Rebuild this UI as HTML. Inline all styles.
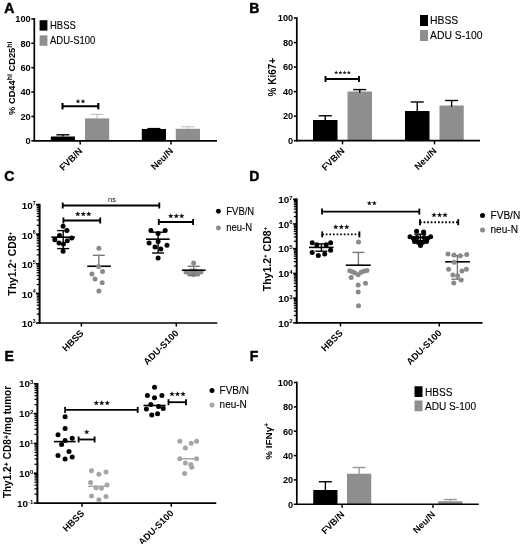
<!DOCTYPE html>
<html><head><meta charset="utf-8"><title>Figure</title>
<style>
html,body{margin:0;padding:0;background:#fff;}
svg{display:block;font-family:"Liberation Sans",sans-serif;filter:blur(0.35px);}
</style></head><body>
<svg width="520" height="544" viewBox="0 0 520 544">
<rect x="0" y="0" width="520" height="544" fill="#fff"/>
<text x="4.20" y="13.00" font-size="14" font-weight="bold" text-anchor="start" fill="#000" stroke="#000" stroke-width="0.45">A</text>
<text x="249.20" y="13.00" font-size="14" font-weight="bold" text-anchor="start" fill="#000" stroke="#000" stroke-width="0.45">B</text>
<text x="4.20" y="180.60" font-size="14" font-weight="bold" text-anchor="start" fill="#000" stroke="#000" stroke-width="0.45">C</text>
<text x="249.20" y="180.60" font-size="14" font-weight="bold" text-anchor="start" fill="#000" stroke="#000" stroke-width="0.45">D</text>
<text x="4.60" y="361.00" font-size="14" font-weight="bold" text-anchor="start" fill="#000" stroke="#000" stroke-width="0.45">E</text>
<text x="249.80" y="361.00" font-size="14" font-weight="bold" text-anchor="start" fill="#000" stroke="#000" stroke-width="0.45">F</text>
<rect x="50.80" y="136.50" width="24.20" height="4.30" fill="#000"/>
<line x1="62.90" y1="134.80" x2="62.90" y2="136.50" stroke="#000" stroke-width="1.4" />
<line x1="56.40" y1="134.80" x2="69.40" y2="134.80" stroke="#000" stroke-width="1.4" />
<rect x="85.00" y="118.40" width="24.20" height="22.40" fill="#8e8e8e"/>
<line x1="97.10" y1="114.40" x2="97.10" y2="118.40" stroke="#b4b4b4" stroke-width="0.9" />
<line x1="90.60" y1="114.40" x2="103.60" y2="114.40" stroke="#b4b4b4" stroke-width="0.9" />
<rect x="141.80" y="129.00" width="24.20" height="11.80" fill="#000"/>
<line x1="153.90" y1="128.60" x2="153.90" y2="129.00" stroke="#000" stroke-width="1.4" />
<line x1="147.40" y1="128.60" x2="160.40" y2="128.60" stroke="#000" stroke-width="1.4" />
<rect x="175.80" y="128.80" width="24.20" height="12.00" fill="#8e8e8e"/>
<line x1="187.90" y1="126.80" x2="187.90" y2="128.80" stroke="#b4b4b4" stroke-width="0.9" />
<line x1="181.40" y1="126.80" x2="194.40" y2="126.80" stroke="#b4b4b4" stroke-width="0.9" />
<line x1="34.30" y1="18.05" x2="34.30" y2="141.65" stroke="#000" stroke-width="1.7" />
<line x1="34.30" y1="140.80" x2="217.00" y2="140.80" stroke="#000" stroke-width="1.7" />
<line x1="31.30" y1="18.90" x2="34.30" y2="18.90" stroke="#000" stroke-width="1.5" />
<text x="30.70" y="22.20" font-size="9.2" font-weight="bold" text-anchor="end" fill="#000" >100</text>
<line x1="31.30" y1="43.28" x2="34.30" y2="43.28" stroke="#000" stroke-width="1.5" />
<text x="30.70" y="46.58" font-size="9.2" font-weight="bold" text-anchor="end" fill="#000" >80</text>
<line x1="31.30" y1="67.66" x2="34.30" y2="67.66" stroke="#000" stroke-width="1.5" />
<text x="30.70" y="70.96" font-size="9.2" font-weight="bold" text-anchor="end" fill="#000" >60</text>
<line x1="31.30" y1="92.04" x2="34.30" y2="92.04" stroke="#000" stroke-width="1.5" />
<text x="30.70" y="95.34" font-size="9.2" font-weight="bold" text-anchor="end" fill="#000" >40</text>
<line x1="31.30" y1="116.42" x2="34.30" y2="116.42" stroke="#000" stroke-width="1.5" />
<text x="30.70" y="119.72" font-size="9.2" font-weight="bold" text-anchor="end" fill="#000" >20</text>
<line x1="31.30" y1="140.80" x2="34.30" y2="140.80" stroke="#000" stroke-width="1.5" />
<text x="30.70" y="144.10" font-size="9.2" font-weight="bold" text-anchor="end" fill="#000" >0</text>
<line x1="80.20" y1="140.80" x2="80.20" y2="144.40" stroke="#000" stroke-width="1.5" />
<text x="83.00" y="151.60" font-size="9.3" font-weight="bold" text-anchor="end" fill="#000" transform="rotate(-45 83.00 151.60)" >FVB/N</text>
<line x1="171.00" y1="140.80" x2="171.00" y2="144.40" stroke="#000" stroke-width="1.5" />
<text x="173.80" y="151.60" font-size="9.3" font-weight="bold" text-anchor="end" fill="#000" transform="rotate(-45 173.80 151.60)" >Neu/N</text>
<text x="15.40" y="78.20" font-size="9.3" font-weight="bold" text-anchor="middle" fill="#000" transform="rotate(-90 15.40 78.20)" >% CD44<tspan font-size="7" dy="-3.2">hi</tspan><tspan dy="3.2"> CD25</tspan><tspan font-size="7" dy="-3.2">hi</tspan></text>
<line x1="62.50" y1="106.20" x2="98.30" y2="106.20" stroke="#000" stroke-width="2.1" />
<line x1="62.50" y1="103.00" x2="62.50" y2="109.40" stroke="#000" stroke-width="2.1" />
<line x1="98.30" y1="103.00" x2="98.30" y2="109.40" stroke="#000" stroke-width="2.1" />
<text x="80.75" y="103.30" font-size="5" font-weight="normal" text-anchor="middle" fill="#000" font-family="DejaVu Sans" stroke="#000" stroke-width="0.25" letter-spacing="0.5">&#9733;&#9733;</text>
<rect x="39.60" y="20.20" width="7.80" height="10.40" fill="#000"/>
<rect x="39.60" y="35.40" width="7.80" height="10.40" fill="#8e8e8e"/>
<text transform="translate(50.00 29.00) scale(0.93 1)" font-size="10.21" fill="#000" stroke="#000" stroke-width="0.12">HBSS</text>
<text transform="translate(50.00 44.20) scale(0.93 1)" font-size="10.21" fill="#000" stroke="#000" stroke-width="0.12">ADU-S100</text>
<rect x="313.00" y="120.00" width="24.50" height="20.70" fill="#000"/>
<line x1="325.25" y1="115.75" x2="325.25" y2="120.00" stroke="#000" stroke-width="1.4" />
<line x1="318.75" y1="115.75" x2="331.75" y2="115.75" stroke="#000" stroke-width="1.4" />
<rect x="347.50" y="91.50" width="24.50" height="49.20" fill="#8e8e8e"/>
<line x1="359.75" y1="89.60" x2="359.75" y2="92.70" stroke="#000" stroke-width="1.4" />
<line x1="353.25" y1="89.60" x2="366.25" y2="89.60" stroke="#000" stroke-width="1.4" />
<rect x="405.00" y="111.00" width="24.50" height="29.70" fill="#000"/>
<line x1="417.25" y1="102.00" x2="417.25" y2="111.00" stroke="#000" stroke-width="1.4" />
<line x1="410.75" y1="102.00" x2="423.75" y2="102.00" stroke="#000" stroke-width="1.4" />
<rect x="439.50" y="105.50" width="24.25" height="35.20" fill="#8e8e8e"/>
<line x1="451.62" y1="100.50" x2="451.62" y2="106.70" stroke="#000" stroke-width="1.4" />
<line x1="445.12" y1="100.50" x2="458.12" y2="100.50" stroke="#000" stroke-width="1.4" />
<line x1="296.80" y1="17.15" x2="296.80" y2="141.55" stroke="#000" stroke-width="1.7" />
<line x1="296.80" y1="140.70" x2="480.00" y2="140.70" stroke="#000" stroke-width="1.7" />
<line x1="293.80" y1="18.00" x2="296.80" y2="18.00" stroke="#000" stroke-width="1.5" />
<text x="293.20" y="21.30" font-size="9.2" font-weight="bold" text-anchor="end" fill="#000" >100</text>
<line x1="293.80" y1="42.54" x2="296.80" y2="42.54" stroke="#000" stroke-width="1.5" />
<text x="293.20" y="45.84" font-size="9.2" font-weight="bold" text-anchor="end" fill="#000" >80</text>
<line x1="293.80" y1="67.08" x2="296.80" y2="67.08" stroke="#000" stroke-width="1.5" />
<text x="293.20" y="70.38" font-size="9.2" font-weight="bold" text-anchor="end" fill="#000" >60</text>
<line x1="293.80" y1="91.62" x2="296.80" y2="91.62" stroke="#000" stroke-width="1.5" />
<text x="293.20" y="94.92" font-size="9.2" font-weight="bold" text-anchor="end" fill="#000" >40</text>
<line x1="293.80" y1="116.16" x2="296.80" y2="116.16" stroke="#000" stroke-width="1.5" />
<text x="293.20" y="119.46" font-size="9.2" font-weight="bold" text-anchor="end" fill="#000" >20</text>
<line x1="293.80" y1="140.70" x2="296.80" y2="140.70" stroke="#000" stroke-width="1.5" />
<text x="293.20" y="144.00" font-size="9.2" font-weight="bold" text-anchor="end" fill="#000" >0</text>
<line x1="342.50" y1="140.70" x2="342.50" y2="144.30" stroke="#000" stroke-width="1.5" />
<text x="345.30" y="151.50" font-size="9.3" font-weight="bold" text-anchor="end" fill="#000" transform="rotate(-45 345.30 151.50)" >FVB/N</text>
<line x1="434.50" y1="140.70" x2="434.50" y2="144.30" stroke="#000" stroke-width="1.5" />
<text x="437.30" y="151.50" font-size="9.3" font-weight="bold" text-anchor="end" fill="#000" transform="rotate(-45 437.30 151.50)" >Neu/N</text>
<text x="276.40" y="77.10" font-size="10" font-weight="bold" text-anchor="middle" fill="#000" transform="rotate(-90 276.40 77.10)" >% Ki67+</text>
<line x1="325.50" y1="79.00" x2="359.00" y2="79.00" stroke="#000" stroke-width="1.85" />
<line x1="325.50" y1="76.00" x2="325.50" y2="82.00" stroke="#000" stroke-width="1.85" />
<line x1="359.00" y1="76.00" x2="359.00" y2="82.00" stroke="#000" stroke-width="1.85" />
<text x="342.73" y="74.20" font-size="4.2" font-weight="normal" text-anchor="middle" fill="#000" font-family="DejaVu Sans" stroke="#000" stroke-width="0.25" letter-spacing="0.45">&#9733;&#9733;&#9733;&#9733;</text>
<rect x="420.00" y="15.00" width="8.00" height="11.00" fill="#000"/>
<rect x="420.00" y="30.00" width="8.00" height="11.00" fill="#8e8e8e"/>
<text transform="translate(430.00 24.20) scale(0.93 1)" font-size="11.18" fill="#000" stroke="#000" stroke-width="0.12">HBSS</text>
<text transform="translate(430.00 39.00) scale(0.93 1)" font-size="11.18" fill="#000" stroke="#000" stroke-width="0.12">ADU S-100</text>
<rect x="313.25" y="490.00" width="24.25" height="14.25" fill="#000"/>
<line x1="325.38" y1="481.75" x2="325.38" y2="490.00" stroke="#000" stroke-width="1.4" />
<line x1="318.88" y1="481.75" x2="331.88" y2="481.75" stroke="#000" stroke-width="1.4" />
<rect x="347.00" y="473.75" width="24.25" height="30.50" fill="#8e8e8e"/>
<line x1="359.12" y1="467.50" x2="359.12" y2="473.75" stroke="#999" stroke-width="1.4" />
<line x1="352.62" y1="467.50" x2="365.62" y2="467.50" stroke="#999" stroke-width="1.4" />
<rect x="438.25" y="501.25" width="24.25" height="3.00" fill="#8e8e8e"/>
<line x1="450.38" y1="499.50" x2="450.38" y2="501.25" stroke="#999" stroke-width="1.4" />
<line x1="443.88" y1="499.50" x2="456.88" y2="499.50" stroke="#999" stroke-width="1.4" />
<line x1="296.80" y1="381.65" x2="296.80" y2="505.10" stroke="#000" stroke-width="1.7" />
<line x1="296.80" y1="504.25" x2="478.75" y2="504.25" stroke="#000" stroke-width="1.7" />
<line x1="293.80" y1="382.50" x2="296.80" y2="382.50" stroke="#000" stroke-width="1.5" />
<text x="293.20" y="385.80" font-size="9.2" font-weight="bold" text-anchor="end" fill="#000" >100</text>
<line x1="293.80" y1="406.85" x2="296.80" y2="406.85" stroke="#000" stroke-width="1.5" />
<text x="293.20" y="410.15" font-size="9.2" font-weight="bold" text-anchor="end" fill="#000" >80</text>
<line x1="293.80" y1="431.20" x2="296.80" y2="431.20" stroke="#000" stroke-width="1.5" />
<text x="293.20" y="434.50" font-size="9.2" font-weight="bold" text-anchor="end" fill="#000" >60</text>
<line x1="293.80" y1="455.55" x2="296.80" y2="455.55" stroke="#000" stroke-width="1.5" />
<text x="293.20" y="458.85" font-size="9.2" font-weight="bold" text-anchor="end" fill="#000" >40</text>
<line x1="293.80" y1="479.90" x2="296.80" y2="479.90" stroke="#000" stroke-width="1.5" />
<text x="293.20" y="483.20" font-size="9.2" font-weight="bold" text-anchor="end" fill="#000" >20</text>
<line x1="293.80" y1="504.25" x2="296.80" y2="504.25" stroke="#000" stroke-width="1.5" />
<text x="293.20" y="507.55" font-size="9.2" font-weight="bold" text-anchor="end" fill="#000" >0</text>
<line x1="342.10" y1="504.25" x2="342.10" y2="507.85" stroke="#000" stroke-width="1.5" />
<text x="344.90" y="515.05" font-size="9.3" font-weight="bold" text-anchor="end" fill="#000" transform="rotate(-45 344.90 515.05)" >FVB/N</text>
<line x1="433.00" y1="504.25" x2="433.00" y2="507.85" stroke="#000" stroke-width="1.5" />
<text x="435.80" y="515.05" font-size="9.3" font-weight="bold" text-anchor="end" fill="#000" transform="rotate(-45 435.80 515.05)" >Neu/N</text>
<text x="272.40" y="441.40" font-size="9.9" font-weight="bold" text-anchor="middle" fill="#000" transform="rotate(-90 272.40 441.40)" >% IFN&#947;<tspan font-size="6.5" dy="-3.4">+</tspan></text>
<rect x="414.50" y="386.25" width="8.00" height="10.75" fill="#000"/>
<rect x="414.50" y="400.50" width="8.00" height="10.75" fill="#8e8e8e"/>
<text transform="translate(425.00 395.80) scale(0.93 1)" font-size="10.86" fill="#000" stroke="#000" stroke-width="0.12">HBSS</text>
<text transform="translate(425.00 410.10) scale(0.93 1)" font-size="10.86" fill="#000" stroke="#000" stroke-width="0.12">ADU S-100</text>
<line x1="39.60" y1="203.80" x2="39.60" y2="323.85" stroke="#000" stroke-width="2.0" />
<line x1="39.60" y1="323.00" x2="217.30" y2="323.00" stroke="#000" stroke-width="1.7" />
<line x1="36.00" y1="204.60" x2="39.60" y2="204.60" stroke="#000" stroke-width="1.6" />
<text x="35.60" y="208.90" font-size="9.9" font-weight="bold" text-anchor="end">10<tspan font-size="5.3" dy="-4.4">7</tspan></text>
<line x1="36.70" y1="225.29" x2="39.60" y2="225.29" stroke="#000" stroke-width="1.25" />
<line x1="36.70" y1="220.08" x2="39.60" y2="220.08" stroke="#000" stroke-width="1.25" />
<line x1="36.70" y1="216.38" x2="39.60" y2="216.38" stroke="#000" stroke-width="1.25" />
<line x1="36.70" y1="213.51" x2="39.60" y2="213.51" stroke="#000" stroke-width="1.25" />
<line x1="36.70" y1="211.17" x2="39.60" y2="211.17" stroke="#000" stroke-width="1.25" />
<line x1="36.70" y1="209.19" x2="39.60" y2="209.19" stroke="#000" stroke-width="1.25" />
<line x1="36.70" y1="207.47" x2="39.60" y2="207.47" stroke="#000" stroke-width="1.25" />
<line x1="36.70" y1="205.95" x2="39.60" y2="205.95" stroke="#000" stroke-width="1.25" />
<line x1="36.00" y1="234.20" x2="39.60" y2="234.20" stroke="#000" stroke-width="1.6" />
<text x="35.60" y="238.50" font-size="9.9" font-weight="bold" text-anchor="end">10<tspan font-size="5.3" dy="-4.4">6</tspan></text>
<line x1="36.70" y1="254.89" x2="39.60" y2="254.89" stroke="#000" stroke-width="1.25" />
<line x1="36.70" y1="249.68" x2="39.60" y2="249.68" stroke="#000" stroke-width="1.25" />
<line x1="36.70" y1="245.98" x2="39.60" y2="245.98" stroke="#000" stroke-width="1.25" />
<line x1="36.70" y1="243.11" x2="39.60" y2="243.11" stroke="#000" stroke-width="1.25" />
<line x1="36.70" y1="240.77" x2="39.60" y2="240.77" stroke="#000" stroke-width="1.25" />
<line x1="36.70" y1="238.79" x2="39.60" y2="238.79" stroke="#000" stroke-width="1.25" />
<line x1="36.70" y1="237.07" x2="39.60" y2="237.07" stroke="#000" stroke-width="1.25" />
<line x1="36.70" y1="235.55" x2="39.60" y2="235.55" stroke="#000" stroke-width="1.25" />
<line x1="36.00" y1="263.80" x2="39.60" y2="263.80" stroke="#000" stroke-width="1.6" />
<text x="35.60" y="268.10" font-size="9.9" font-weight="bold" text-anchor="end">10<tspan font-size="5.3" dy="-4.4">5</tspan></text>
<line x1="36.70" y1="284.49" x2="39.60" y2="284.49" stroke="#000" stroke-width="1.25" />
<line x1="36.70" y1="279.28" x2="39.60" y2="279.28" stroke="#000" stroke-width="1.25" />
<line x1="36.70" y1="275.58" x2="39.60" y2="275.58" stroke="#000" stroke-width="1.25" />
<line x1="36.70" y1="272.71" x2="39.60" y2="272.71" stroke="#000" stroke-width="1.25" />
<line x1="36.70" y1="270.37" x2="39.60" y2="270.37" stroke="#000" stroke-width="1.25" />
<line x1="36.70" y1="268.39" x2="39.60" y2="268.39" stroke="#000" stroke-width="1.25" />
<line x1="36.70" y1="266.67" x2="39.60" y2="266.67" stroke="#000" stroke-width="1.25" />
<line x1="36.70" y1="265.15" x2="39.60" y2="265.15" stroke="#000" stroke-width="1.25" />
<line x1="36.00" y1="293.40" x2="39.60" y2="293.40" stroke="#000" stroke-width="1.6" />
<text x="35.60" y="297.70" font-size="9.9" font-weight="bold" text-anchor="end">10<tspan font-size="5.3" dy="-4.4">4</tspan></text>
<line x1="36.70" y1="314.09" x2="39.60" y2="314.09" stroke="#000" stroke-width="1.25" />
<line x1="36.70" y1="308.88" x2="39.60" y2="308.88" stroke="#000" stroke-width="1.25" />
<line x1="36.70" y1="305.18" x2="39.60" y2="305.18" stroke="#000" stroke-width="1.25" />
<line x1="36.70" y1="302.31" x2="39.60" y2="302.31" stroke="#000" stroke-width="1.25" />
<line x1="36.70" y1="299.97" x2="39.60" y2="299.97" stroke="#000" stroke-width="1.25" />
<line x1="36.70" y1="297.99" x2="39.60" y2="297.99" stroke="#000" stroke-width="1.25" />
<line x1="36.70" y1="296.27" x2="39.60" y2="296.27" stroke="#000" stroke-width="1.25" />
<line x1="36.70" y1="294.75" x2="39.60" y2="294.75" stroke="#000" stroke-width="1.25" />
<line x1="36.00" y1="323.00" x2="39.60" y2="323.00" stroke="#000" stroke-width="1.6" />
<text x="35.60" y="327.30" font-size="9.9" font-weight="bold" text-anchor="end">10<tspan font-size="5.3" dy="-4.4">3</tspan></text>
<line x1="81.40" y1="323.00" x2="81.40" y2="326.60" stroke="#000" stroke-width="1.5" />
<text x="84.20" y="333.80" font-size="9.3" font-weight="bold" text-anchor="end" fill="#000" transform="rotate(-45 84.20 333.80)" >HBSS</text>
<line x1="176.30" y1="323.00" x2="176.30" y2="326.60" stroke="#000" stroke-width="1.5" />
<text x="179.10" y="333.80" font-size="9.3" font-weight="bold" text-anchor="end" fill="#000" transform="rotate(-45 179.10 333.80)" >ADU-S100</text>
<text x="15.90" y="263.80" font-size="10.4" font-weight="bold" text-anchor="middle" transform="rotate(-90 15.90 263.80)">Thy1.2<tspan font-size="6.2" dy="-3.8">+</tspan><tspan dy="3.8"> CD8</tspan><tspan font-size="6.2" dy="-3.8">+</tspan></text>
<line x1="62.70" y1="205.50" x2="159.30" y2="205.50" stroke="#000" stroke-width="1.85" />
<line x1="62.70" y1="202.50" x2="62.70" y2="208.50" stroke="#000" stroke-width="1.85" />
<line x1="159.30" y1="202.50" x2="159.30" y2="208.50" stroke="#000" stroke-width="1.85" />
<text x="112.00" y="202.30" font-size="7.4" font-weight="normal" text-anchor="middle" fill="#000" >ns</text>
<line x1="63.40" y1="220.50" x2="100.20" y2="220.50" stroke="#000" stroke-width="1.85" />
<line x1="63.40" y1="217.50" x2="63.40" y2="223.50" stroke="#000" stroke-width="1.85" />
<line x1="100.20" y1="217.50" x2="100.20" y2="223.50" stroke="#000" stroke-width="1.85" />
<text x="83.30" y="215.60" font-size="6.2" font-weight="normal" text-anchor="middle" fill="#000" font-family="DejaVu Sans" stroke="#000" stroke-width="0.25" letter-spacing="0">&#9733;&#9733;&#9733;</text>
<line x1="158.80" y1="222.00" x2="193.10" y2="222.00" stroke="#000" stroke-width="1.85" />
<line x1="158.80" y1="219.00" x2="158.80" y2="225.00" stroke="#000" stroke-width="1.85" />
<line x1="193.10" y1="219.00" x2="193.10" y2="225.00" stroke="#000" stroke-width="1.85" />
<text x="176.30" y="218.20" font-size="6.2" font-weight="normal" text-anchor="middle" fill="#000" font-family="DejaVu Sans" stroke="#000" stroke-width="0.25" letter-spacing="0">&#9733;&#9733;&#9733;</text>
<line x1="63.20" y1="230.60" x2="63.20" y2="237.20" stroke="#000" stroke-width="1.4" />
<line x1="57.20" y1="230.60" x2="69.20" y2="230.60" stroke="#000" stroke-width="1.4" />
<line x1="63.20" y1="237.20" x2="63.20" y2="248.60" stroke="#000" stroke-width="1.4" />
<line x1="57.20" y1="248.60" x2="69.20" y2="248.60" stroke="#000" stroke-width="1.4" />
<line x1="51.30" y1="237.20" x2="75.00" y2="237.20" stroke="#000" stroke-width="1.5999999999999999" />
<circle cx="63.10" cy="226.25" r="2.5" fill="#000"/>
<circle cx="66.90" cy="230.60" r="2.5" fill="#000"/>
<circle cx="59.50" cy="235.60" r="2.5" fill="#000"/>
<circle cx="71.70" cy="238.00" r="2.5" fill="#000"/>
<circle cx="54.80" cy="239.70" r="2.5" fill="#000"/>
<circle cx="67.30" cy="240.80" r="2.5" fill="#000"/>
<circle cx="59.00" cy="243.10" r="2.5" fill="#000"/>
<circle cx="63.40" cy="243.90" r="2.5" fill="#000"/>
<circle cx="63.10" cy="251.25" r="2.5" fill="#000"/>
<line x1="98.80" y1="255.30" x2="98.80" y2="266.25" stroke="#777" stroke-width="1.4" />
<line x1="92.80" y1="255.30" x2="104.80" y2="255.30" stroke="#777" stroke-width="1.4" />
<line x1="87.20" y1="266.25" x2="110.80" y2="266.25" stroke="#000" stroke-width="1.5999999999999999" />
<circle cx="98.90" cy="248.30" r="2.5" fill="#8a8a8a"/>
<circle cx="98.60" cy="266.50" r="2.5" fill="#8a8a8a"/>
<circle cx="102.50" cy="271.50" r="2.5" fill="#8a8a8a"/>
<circle cx="91.90" cy="274.00" r="2.5" fill="#8a8a8a"/>
<circle cx="95.00" cy="279.00" r="2.5" fill="#8a8a8a"/>
<circle cx="102.20" cy="282.70" r="2.5" fill="#8a8a8a"/>
<circle cx="98.90" cy="291.00" r="2.5" fill="#8a8a8a"/>
<line x1="158.10" y1="232.20" x2="158.10" y2="239.20" stroke="#000" stroke-width="1.4" />
<line x1="152.10" y1="232.20" x2="164.10" y2="232.20" stroke="#000" stroke-width="1.4" />
<line x1="158.10" y1="239.20" x2="158.10" y2="253.00" stroke="#000" stroke-width="1.4" />
<line x1="152.10" y1="253.00" x2="164.10" y2="253.00" stroke="#000" stroke-width="1.4" />
<line x1="146.00" y1="239.20" x2="169.70" y2="239.20" stroke="#000" stroke-width="1.5999999999999999" />
<circle cx="150.90" cy="230.60" r="2.5" fill="#000"/>
<circle cx="165.20" cy="230.60" r="2.5" fill="#000"/>
<circle cx="158.10" cy="233.40" r="2.5" fill="#000"/>
<circle cx="158.10" cy="241.60" r="2.5" fill="#000"/>
<circle cx="149.10" cy="243.10" r="2.5" fill="#000"/>
<circle cx="167.00" cy="245.20" r="2.5" fill="#000"/>
<circle cx="155.00" cy="247.00" r="2.5" fill="#000"/>
<circle cx="160.80" cy="249.10" r="2.5" fill="#000"/>
<circle cx="158.10" cy="258.00" r="2.5" fill="#000"/>
<circle cx="193.60" cy="263.10" r="2.5" fill="#8a8a8a"/>
<circle cx="186.00" cy="272.00" r="2.5" fill="#8a8a8a"/>
<circle cx="189.50" cy="273.50" r="2.5" fill="#8a8a8a"/>
<circle cx="193.60" cy="274.50" r="2.5" fill="#8a8a8a"/>
<circle cx="197.50" cy="273.50" r="2.5" fill="#8a8a8a"/>
<circle cx="201.00" cy="272.00" r="2.5" fill="#8a8a8a"/>
<circle cx="191.00" cy="271.00" r="2.5" fill="#8a8a8a"/>
<circle cx="196.00" cy="271.00" r="2.5" fill="#8a8a8a"/>
<line x1="193.70" y1="266.25" x2="193.70" y2="270.20" stroke="#777" stroke-width="1.4" />
<line x1="187.70" y1="266.25" x2="199.70" y2="266.25" stroke="#777" stroke-width="1.4" />
<line x1="193.70" y1="270.20" x2="193.70" y2="275.60" stroke="#777" stroke-width="1.4" />
<line x1="187.70" y1="275.60" x2="199.70" y2="275.60" stroke="#777" stroke-width="1.4" />
<line x1="181.90" y1="270.20" x2="205.60" y2="270.20" stroke="#000" stroke-width="1.5999999999999999" />
<circle cx="218.40" cy="211.20" r="2.45" fill="#000"/>
<circle cx="218.40" cy="228.00" r="2.45" fill="#8a8a8a"/>
<text transform="translate(226.30 214.60) scale(0.93 1)" font-size="10.21" fill="#000" stroke="#000" stroke-width="0.12">FVB/N</text>
<text transform="translate(226.30 231.20) scale(0.93 1)" font-size="10.21" fill="#000" stroke="#000" stroke-width="0.12">neu-N</text>
<line x1="296.70" y1="198.45" x2="296.70" y2="323.75" stroke="#000" stroke-width="2.0" />
<line x1="296.70" y1="322.90" x2="482.50" y2="322.90" stroke="#000" stroke-width="1.7" />
<line x1="293.10" y1="199.25" x2="296.70" y2="199.25" stroke="#000" stroke-width="1.6" />
<text x="292.70" y="202.85" font-size="9.9" font-weight="bold" text-anchor="end">10<tspan font-size="6" dy="-3.2">7</tspan></text>
<line x1="293.80" y1="216.54" x2="296.70" y2="216.54" stroke="#000" stroke-width="1.25" />
<line x1="293.80" y1="212.18" x2="296.70" y2="212.18" stroke="#000" stroke-width="1.25" />
<line x1="293.80" y1="209.09" x2="296.70" y2="209.09" stroke="#000" stroke-width="1.25" />
<line x1="293.80" y1="206.69" x2="296.70" y2="206.69" stroke="#000" stroke-width="1.25" />
<line x1="293.80" y1="204.74" x2="296.70" y2="204.74" stroke="#000" stroke-width="1.25" />
<line x1="293.80" y1="203.08" x2="296.70" y2="203.08" stroke="#000" stroke-width="1.25" />
<line x1="293.80" y1="201.65" x2="296.70" y2="201.65" stroke="#000" stroke-width="1.25" />
<line x1="293.80" y1="200.38" x2="296.70" y2="200.38" stroke="#000" stroke-width="1.25" />
<line x1="293.10" y1="223.98" x2="296.70" y2="223.98" stroke="#000" stroke-width="1.6" />
<text x="292.70" y="227.58" font-size="9.9" font-weight="bold" text-anchor="end">10<tspan font-size="6" dy="-3.2">6</tspan></text>
<line x1="293.80" y1="241.27" x2="296.70" y2="241.27" stroke="#000" stroke-width="1.25" />
<line x1="293.80" y1="236.91" x2="296.70" y2="236.91" stroke="#000" stroke-width="1.25" />
<line x1="293.80" y1="233.82" x2="296.70" y2="233.82" stroke="#000" stroke-width="1.25" />
<line x1="293.80" y1="231.42" x2="296.70" y2="231.42" stroke="#000" stroke-width="1.25" />
<line x1="293.80" y1="229.47" x2="296.70" y2="229.47" stroke="#000" stroke-width="1.25" />
<line x1="293.80" y1="227.81" x2="296.70" y2="227.81" stroke="#000" stroke-width="1.25" />
<line x1="293.80" y1="226.38" x2="296.70" y2="226.38" stroke="#000" stroke-width="1.25" />
<line x1="293.80" y1="225.11" x2="296.70" y2="225.11" stroke="#000" stroke-width="1.25" />
<line x1="293.10" y1="248.71" x2="296.70" y2="248.71" stroke="#000" stroke-width="1.6" />
<text x="292.70" y="252.31" font-size="9.9" font-weight="bold" text-anchor="end">10<tspan font-size="6" dy="-3.2">5</tspan></text>
<line x1="293.80" y1="266.00" x2="296.70" y2="266.00" stroke="#000" stroke-width="1.25" />
<line x1="293.80" y1="261.64" x2="296.70" y2="261.64" stroke="#000" stroke-width="1.25" />
<line x1="293.80" y1="258.55" x2="296.70" y2="258.55" stroke="#000" stroke-width="1.25" />
<line x1="293.80" y1="256.15" x2="296.70" y2="256.15" stroke="#000" stroke-width="1.25" />
<line x1="293.80" y1="254.20" x2="296.70" y2="254.20" stroke="#000" stroke-width="1.25" />
<line x1="293.80" y1="252.54" x2="296.70" y2="252.54" stroke="#000" stroke-width="1.25" />
<line x1="293.80" y1="251.11" x2="296.70" y2="251.11" stroke="#000" stroke-width="1.25" />
<line x1="293.80" y1="249.84" x2="296.70" y2="249.84" stroke="#000" stroke-width="1.25" />
<line x1="293.10" y1="273.44" x2="296.70" y2="273.44" stroke="#000" stroke-width="1.6" />
<text x="292.70" y="277.04" font-size="9.9" font-weight="bold" text-anchor="end">10<tspan font-size="6" dy="-3.2">4</tspan></text>
<line x1="293.80" y1="290.73" x2="296.70" y2="290.73" stroke="#000" stroke-width="1.25" />
<line x1="293.80" y1="286.37" x2="296.70" y2="286.37" stroke="#000" stroke-width="1.25" />
<line x1="293.80" y1="283.28" x2="296.70" y2="283.28" stroke="#000" stroke-width="1.25" />
<line x1="293.80" y1="280.88" x2="296.70" y2="280.88" stroke="#000" stroke-width="1.25" />
<line x1="293.80" y1="278.93" x2="296.70" y2="278.93" stroke="#000" stroke-width="1.25" />
<line x1="293.80" y1="277.27" x2="296.70" y2="277.27" stroke="#000" stroke-width="1.25" />
<line x1="293.80" y1="275.84" x2="296.70" y2="275.84" stroke="#000" stroke-width="1.25" />
<line x1="293.80" y1="274.57" x2="296.70" y2="274.57" stroke="#000" stroke-width="1.25" />
<line x1="293.10" y1="298.17" x2="296.70" y2="298.17" stroke="#000" stroke-width="1.6" />
<text x="292.70" y="301.77" font-size="9.9" font-weight="bold" text-anchor="end">10<tspan font-size="6" dy="-3.2">3</tspan></text>
<line x1="293.80" y1="315.46" x2="296.70" y2="315.46" stroke="#000" stroke-width="1.25" />
<line x1="293.80" y1="311.10" x2="296.70" y2="311.10" stroke="#000" stroke-width="1.25" />
<line x1="293.80" y1="308.01" x2="296.70" y2="308.01" stroke="#000" stroke-width="1.25" />
<line x1="293.80" y1="305.61" x2="296.70" y2="305.61" stroke="#000" stroke-width="1.25" />
<line x1="293.80" y1="303.66" x2="296.70" y2="303.66" stroke="#000" stroke-width="1.25" />
<line x1="293.80" y1="302.00" x2="296.70" y2="302.00" stroke="#000" stroke-width="1.25" />
<line x1="293.80" y1="300.57" x2="296.70" y2="300.57" stroke="#000" stroke-width="1.25" />
<line x1="293.80" y1="299.30" x2="296.70" y2="299.30" stroke="#000" stroke-width="1.25" />
<line x1="293.10" y1="322.90" x2="296.70" y2="322.90" stroke="#000" stroke-width="1.6" />
<text x="292.70" y="326.50" font-size="9.9" font-weight="bold" text-anchor="end">10<tspan font-size="6" dy="-3.2">2</tspan></text>
<line x1="340.50" y1="322.90" x2="340.50" y2="326.50" stroke="#000" stroke-width="1.5" />
<text x="343.30" y="333.70" font-size="9.3" font-weight="bold" text-anchor="end" fill="#000" transform="rotate(-45 343.30 333.70)" >HBSS</text>
<line x1="439.25" y1="322.90" x2="439.25" y2="326.50" stroke="#000" stroke-width="1.5" />
<text x="442.05" y="333.70" font-size="9.3" font-weight="bold" text-anchor="end" fill="#000" transform="rotate(-45 442.05 333.70)" >ADU-S100</text>
<text x="270.80" y="259.00" font-size="10.5" font-weight="bold" text-anchor="middle" transform="rotate(-90 270.80 259.00)">Thy1.2<tspan font-size="6.2" dy="-3.8">+</tspan><tspan dy="3.8"> CD8</tspan><tspan font-size="6.2" dy="-3.8">+</tspan></text>
<line x1="322.00" y1="211.60" x2="419.30" y2="211.60" stroke="#000" stroke-width="1.85" />
<line x1="322.00" y1="208.60" x2="322.00" y2="214.60" stroke="#000" stroke-width="1.85" />
<line x1="419.30" y1="208.60" x2="419.30" y2="214.60" stroke="#000" stroke-width="1.85" />
<text x="371.80" y="205.20" font-size="5.6" font-weight="normal" text-anchor="middle" fill="#000" font-family="DejaVu Sans" stroke="#000" stroke-width="0.25" letter-spacing="0">&#9733;&#9733;</text>
<line x1="322.20" y1="234.40" x2="359.40" y2="234.40" stroke="#000" stroke-width="1.85" stroke-dasharray="1.7 1.9"/>
<line x1="322.20" y1="231.40" x2="322.20" y2="237.40" stroke="#000" stroke-width="1.85" />
<line x1="359.40" y1="231.40" x2="359.40" y2="237.40" stroke="#000" stroke-width="1.85" />
<text x="341.30" y="228.60" font-size="6.2" font-weight="normal" text-anchor="middle" fill="#000" font-family="DejaVu Sans" stroke="#000" stroke-width="0.25" letter-spacing="0">&#9733;&#9733;&#9733;</text>
<line x1="420.00" y1="222.20" x2="458.20" y2="222.20" stroke="#000" stroke-width="1.85" stroke-dasharray="1.7 1.9"/>
<line x1="420.00" y1="219.20" x2="420.00" y2="225.20" stroke="#000" stroke-width="1.85" />
<line x1="458.20" y1="219.20" x2="458.20" y2="225.20" stroke="#000" stroke-width="1.85" />
<text x="439.60" y="217.00" font-size="6.2" font-weight="normal" text-anchor="middle" fill="#000" font-family="DejaVu Sans" stroke="#000" stroke-width="0.25" letter-spacing="0">&#9733;&#9733;&#9733;</text>
<line x1="321.40" y1="243.90" x2="321.40" y2="247.40" stroke="#000" stroke-width="1.4" />
<line x1="315.40" y1="243.90" x2="327.40" y2="243.90" stroke="#000" stroke-width="1.4" />
<line x1="321.40" y1="247.40" x2="321.40" y2="251.20" stroke="#000" stroke-width="1.4" />
<line x1="315.40" y1="251.20" x2="327.40" y2="251.20" stroke="#000" stroke-width="1.4" />
<line x1="309.00" y1="247.40" x2="333.60" y2="247.40" stroke="#000" stroke-width="1.5999999999999999" />
<circle cx="312.20" cy="242.70" r="2.5" fill="#000"/>
<circle cx="330.60" cy="242.70" r="2.5" fill="#000"/>
<circle cx="316.80" cy="244.80" r="2.5" fill="#000"/>
<circle cx="326.20" cy="244.80" r="2.5" fill="#000"/>
<circle cx="312.20" cy="252.40" r="2.5" fill="#000"/>
<circle cx="318.30" cy="255.40" r="2.5" fill="#000"/>
<circle cx="324.70" cy="254.00" r="2.5" fill="#000"/>
<circle cx="330.60" cy="250.20" r="2.5" fill="#000"/>
<line x1="358.40" y1="252.40" x2="358.40" y2="265.20" stroke="#777" stroke-width="1.4" />
<line x1="352.40" y1="252.40" x2="364.40" y2="252.40" stroke="#777" stroke-width="1.4" />
<line x1="345.80" y1="265.20" x2="370.70" y2="265.20" stroke="#000" stroke-width="1.5999999999999999" />
<circle cx="358.50" cy="242.10" r="2.5" fill="#8a8a8a"/>
<circle cx="349.80" cy="270.80" r="2.5" fill="#8a8a8a"/>
<circle cx="352.40" cy="271.80" r="2.5" fill="#8a8a8a"/>
<circle cx="355.00" cy="273.00" r="2.5" fill="#8a8a8a"/>
<circle cx="358.20" cy="274.80" r="2.5" fill="#8a8a8a"/>
<circle cx="361.10" cy="272.20" r="2.5" fill="#8a8a8a"/>
<circle cx="363.80" cy="271.30" r="2.5" fill="#8a8a8a"/>
<circle cx="366.90" cy="270.40" r="2.5" fill="#8a8a8a"/>
<circle cx="351.20" cy="277.40" r="2.5" fill="#8a8a8a"/>
<circle cx="358.20" cy="284.90" r="2.5" fill="#8a8a8a"/>
<circle cx="365.50" cy="283.20" r="2.5" fill="#8a8a8a"/>
<circle cx="358.20" cy="291.90" r="2.5" fill="#8a8a8a"/>
<circle cx="358.50" cy="305.70" r="2.5" fill="#8a8a8a"/>
<line x1="420.30" y1="234.20" x2="420.30" y2="237.40" stroke="#000" stroke-width="1.4" />
<line x1="414.30" y1="234.20" x2="426.30" y2="234.20" stroke="#000" stroke-width="1.4" />
<line x1="420.30" y1="237.40" x2="420.30" y2="240.60" stroke="#000" stroke-width="1.4" />
<line x1="414.30" y1="240.60" x2="426.30" y2="240.60" stroke="#000" stroke-width="1.4" />
<line x1="408.00" y1="237.40" x2="432.60" y2="237.40" stroke="#000" stroke-width="1.5999999999999999" />
<circle cx="416.60" cy="231.20" r="2.5" fill="#000"/>
<circle cx="423.60" cy="232.10" r="2.5" fill="#000"/>
<circle cx="410.00" cy="236.80" r="2.5" fill="#000"/>
<circle cx="413.50" cy="238.50" r="2.5" fill="#000"/>
<circle cx="417.00" cy="237.50" r="2.5" fill="#000"/>
<circle cx="424.00" cy="237.50" r="2.5" fill="#000"/>
<circle cx="427.50" cy="238.50" r="2.5" fill="#000"/>
<circle cx="430.60" cy="236.80" r="2.5" fill="#000"/>
<circle cx="414.50" cy="241.50" r="2.5" fill="#000"/>
<circle cx="418.50" cy="242.50" r="2.5" fill="#000"/>
<circle cx="422.50" cy="242.50" r="2.5" fill="#000"/>
<circle cx="426.50" cy="241.50" r="2.5" fill="#000"/>
<circle cx="420.50" cy="245.50" r="2.5" fill="#000"/>
<line x1="457.40" y1="255.70" x2="457.40" y2="261.80" stroke="#777" stroke-width="1.4" />
<line x1="451.40" y1="255.70" x2="463.40" y2="255.70" stroke="#777" stroke-width="1.4" />
<line x1="457.40" y1="261.80" x2="457.40" y2="279.20" stroke="#777" stroke-width="1.4" />
<line x1="451.40" y1="279.20" x2="463.40" y2="279.20" stroke="#777" stroke-width="1.4" />
<line x1="445.10" y1="261.80" x2="469.90" y2="261.80" stroke="#000" stroke-width="1.5999999999999999" />
<circle cx="448.00" cy="253.90" r="2.5" fill="#8a8a8a"/>
<circle cx="454.10" cy="255.10" r="2.5" fill="#8a8a8a"/>
<circle cx="460.30" cy="255.70" r="2.5" fill="#8a8a8a"/>
<circle cx="466.70" cy="254.40" r="2.5" fill="#8a8a8a"/>
<circle cx="454.10" cy="262.30" r="2.5" fill="#8a8a8a"/>
<circle cx="448.60" cy="269.30" r="2.5" fill="#8a8a8a"/>
<circle cx="462.00" cy="271.00" r="2.5" fill="#8a8a8a"/>
<circle cx="466.40" cy="269.30" r="2.5" fill="#8a8a8a"/>
<circle cx="452.90" cy="274.90" r="2.5" fill="#8a8a8a"/>
<circle cx="457.60" cy="275.70" r="2.5" fill="#8a8a8a"/>
<circle cx="461.10" cy="280.10" r="2.5" fill="#8a8a8a"/>
<circle cx="453.80" cy="283.10" r="2.5" fill="#8a8a8a"/>
<circle cx="482.50" cy="215.50" r="2.5" fill="#000"/>
<circle cx="482.50" cy="230.00" r="2.5" fill="#8a8a8a"/>
<text transform="translate(490.50 218.80) scale(0.93 1)" font-size="10.86" fill="#000" stroke="#000" stroke-width="0.12">FVB/N</text>
<text transform="translate(490.50 233.30) scale(0.93 1)" font-size="10.86" fill="#000" stroke="#000" stroke-width="0.12">neu-N</text>
<line x1="37.40" y1="382.95" x2="37.40" y2="503.95" stroke="#000" stroke-width="2.0" />
<line x1="37.40" y1="503.10" x2="216.25" y2="503.10" stroke="#000" stroke-width="1.7" />
<line x1="33.80" y1="383.75" x2="37.40" y2="383.75" stroke="#000" stroke-width="1.6" />
<text x="33.40" y="387.25" font-size="9.9" font-weight="bold" text-anchor="end">10<tspan font-size="6" dy="-3.1">3</tspan></text>
<line x1="34.50" y1="404.61" x2="37.40" y2="404.61" stroke="#000" stroke-width="1.25" />
<line x1="34.50" y1="399.35" x2="37.40" y2="399.35" stroke="#000" stroke-width="1.25" />
<line x1="34.50" y1="395.62" x2="37.40" y2="395.62" stroke="#000" stroke-width="1.25" />
<line x1="34.50" y1="392.73" x2="37.40" y2="392.73" stroke="#000" stroke-width="1.25" />
<line x1="34.50" y1="390.37" x2="37.40" y2="390.37" stroke="#000" stroke-width="1.25" />
<line x1="34.50" y1="388.37" x2="37.40" y2="388.37" stroke="#000" stroke-width="1.25" />
<line x1="34.50" y1="386.64" x2="37.40" y2="386.64" stroke="#000" stroke-width="1.25" />
<line x1="34.50" y1="385.12" x2="37.40" y2="385.12" stroke="#000" stroke-width="1.25" />
<line x1="33.80" y1="413.59" x2="37.40" y2="413.59" stroke="#000" stroke-width="1.6" />
<text x="33.40" y="417.09" font-size="9.9" font-weight="bold" text-anchor="end">10<tspan font-size="6" dy="-3.1">2</tspan></text>
<line x1="34.50" y1="434.44" x2="37.40" y2="434.44" stroke="#000" stroke-width="1.25" />
<line x1="34.50" y1="429.19" x2="37.40" y2="429.19" stroke="#000" stroke-width="1.25" />
<line x1="34.50" y1="425.46" x2="37.40" y2="425.46" stroke="#000" stroke-width="1.25" />
<line x1="34.50" y1="422.57" x2="37.40" y2="422.57" stroke="#000" stroke-width="1.25" />
<line x1="34.50" y1="420.21" x2="37.40" y2="420.21" stroke="#000" stroke-width="1.25" />
<line x1="34.50" y1="418.21" x2="37.40" y2="418.21" stroke="#000" stroke-width="1.25" />
<line x1="34.50" y1="416.48" x2="37.40" y2="416.48" stroke="#000" stroke-width="1.25" />
<line x1="34.50" y1="414.95" x2="37.40" y2="414.95" stroke="#000" stroke-width="1.25" />
<line x1="33.80" y1="443.43" x2="37.40" y2="443.43" stroke="#000" stroke-width="1.6" />
<text x="33.40" y="446.93" font-size="9.9" font-weight="bold" text-anchor="end">10<tspan font-size="6" dy="-3.1">1</tspan></text>
<line x1="34.50" y1="464.28" x2="37.40" y2="464.28" stroke="#000" stroke-width="1.25" />
<line x1="34.50" y1="459.03" x2="37.40" y2="459.03" stroke="#000" stroke-width="1.25" />
<line x1="34.50" y1="455.30" x2="37.40" y2="455.30" stroke="#000" stroke-width="1.25" />
<line x1="34.50" y1="452.41" x2="37.40" y2="452.41" stroke="#000" stroke-width="1.25" />
<line x1="34.50" y1="450.04" x2="37.40" y2="450.04" stroke="#000" stroke-width="1.25" />
<line x1="34.50" y1="448.05" x2="37.40" y2="448.05" stroke="#000" stroke-width="1.25" />
<line x1="34.50" y1="446.32" x2="37.40" y2="446.32" stroke="#000" stroke-width="1.25" />
<line x1="34.50" y1="444.79" x2="37.40" y2="444.79" stroke="#000" stroke-width="1.25" />
<line x1="33.80" y1="473.26" x2="37.40" y2="473.26" stroke="#000" stroke-width="1.6" />
<text x="33.40" y="476.76" font-size="9.9" font-weight="bold" text-anchor="end">10<tspan font-size="6" dy="-3.1">0</tspan></text>
<line x1="34.50" y1="494.12" x2="37.40" y2="494.12" stroke="#000" stroke-width="1.25" />
<line x1="34.50" y1="488.86" x2="37.40" y2="488.86" stroke="#000" stroke-width="1.25" />
<line x1="34.50" y1="485.14" x2="37.40" y2="485.14" stroke="#000" stroke-width="1.25" />
<line x1="34.50" y1="482.24" x2="37.40" y2="482.24" stroke="#000" stroke-width="1.25" />
<line x1="34.50" y1="479.88" x2="37.40" y2="479.88" stroke="#000" stroke-width="1.25" />
<line x1="34.50" y1="477.88" x2="37.40" y2="477.88" stroke="#000" stroke-width="1.25" />
<line x1="34.50" y1="476.15" x2="37.40" y2="476.15" stroke="#000" stroke-width="1.25" />
<line x1="34.50" y1="474.63" x2="37.40" y2="474.63" stroke="#000" stroke-width="1.25" />
<line x1="33.80" y1="503.10" x2="37.40" y2="503.10" stroke="#000" stroke-width="1.6" />
<text x="33.40" y="506.60" font-size="9.9" font-weight="bold" text-anchor="end">10<tspan font-size="6" dy="-3.1">-1</tspan></text>
<line x1="82.00" y1="503.10" x2="82.00" y2="506.70" stroke="#000" stroke-width="1.5" />
<text x="84.80" y="513.90" font-size="9.3" font-weight="bold" text-anchor="end" fill="#000" transform="rotate(-45 84.80 513.90)" >HBSS</text>
<line x1="171.25" y1="503.10" x2="171.25" y2="506.70" stroke="#000" stroke-width="1.5" />
<text x="174.05" y="513.90" font-size="9.3" font-weight="bold" text-anchor="end" fill="#000" transform="rotate(-45 174.05 513.90)" >ADU-S100</text>
<text x="11.20" y="442.00" font-size="10" font-weight="bold" text-anchor="middle" transform="rotate(-90 11.20 442.00)">Thy1.2<tspan font-size="7.6" dy="-2.6">+</tspan><tspan dy="2.6"> CD8</tspan><tspan font-size="7.6" dy="-2.6">+</tspan><tspan dy="2.6">/mg tumor</tspan></text>
<line x1="65.10" y1="409.90" x2="137.70" y2="409.90" stroke="#000" stroke-width="1.85" />
<line x1="65.10" y1="406.90" x2="65.10" y2="412.90" stroke="#000" stroke-width="1.85" />
<line x1="137.70" y1="406.90" x2="137.70" y2="412.90" stroke="#000" stroke-width="1.85" />
<text x="101.80" y="404.80" font-size="6.2" font-weight="normal" text-anchor="middle" fill="#000" font-family="DejaVu Sans" stroke="#000" stroke-width="0.25" letter-spacing="0">&#9733;&#9733;&#9733;</text>
<line x1="78.60" y1="439.50" x2="94.60" y2="439.50" stroke="#000" stroke-width="1.85" />
<line x1="78.60" y1="436.50" x2="78.60" y2="442.50" stroke="#000" stroke-width="1.85" />
<line x1="94.60" y1="436.50" x2="94.60" y2="442.50" stroke="#000" stroke-width="1.85" />
<text x="86.90" y="434.40" font-size="6.2" font-weight="normal" text-anchor="middle" fill="#000" font-family="DejaVu Sans" stroke="#000" stroke-width="0.25" letter-spacing="0">&#9733;</text>
<line x1="168.50" y1="402.20" x2="186.00" y2="402.20" stroke="#000" stroke-width="1.85" />
<line x1="168.50" y1="399.20" x2="168.50" y2="405.20" stroke="#000" stroke-width="1.85" />
<line x1="186.00" y1="399.20" x2="186.00" y2="405.20" stroke="#000" stroke-width="1.85" />
<text x="177.50" y="395.60" font-size="6.2" font-weight="normal" text-anchor="middle" fill="#000" font-family="DejaVu Sans" stroke="#000" stroke-width="0.25" letter-spacing="0">&#9733;&#9733;&#9733;</text>
<line x1="53.90" y1="441.60" x2="75.70" y2="441.60" stroke="#000" stroke-width="1.6" />
<circle cx="65.10" cy="416.80" r="2.5" fill="#000"/>
<circle cx="65.10" cy="428.40" r="2.5" fill="#000"/>
<circle cx="58.00" cy="434.70" r="2.5" fill="#000"/>
<circle cx="72.20" cy="438.20" r="2.5" fill="#000"/>
<circle cx="65.10" cy="440.50" r="2.5" fill="#000"/>
<circle cx="61.60" cy="444.40" r="2.5" fill="#000"/>
<circle cx="69.00" cy="451.50" r="2.5" fill="#000"/>
<circle cx="58.00" cy="455.60" r="2.5" fill="#000"/>
<circle cx="72.20" cy="457.10" r="2.5" fill="#000"/>
<circle cx="65.10" cy="459.00" r="2.5" fill="#000"/>
<line x1="88.30" y1="486.30" x2="108.50" y2="486.30" stroke="#999" stroke-width="1.3" />
<circle cx="91.50" cy="470.80" r="2.5" fill="#a5a5a5"/>
<circle cx="106.00" cy="472.00" r="2.5" fill="#a5a5a5"/>
<circle cx="98.90" cy="474.30" r="2.5" fill="#a5a5a5"/>
<circle cx="90.60" cy="482.60" r="2.5" fill="#a5a5a5"/>
<circle cx="107.00" cy="485.00" r="2.5" fill="#a5a5a5"/>
<circle cx="96.00" cy="487.80" r="2.5" fill="#a5a5a5"/>
<circle cx="101.40" cy="488.20" r="2.5" fill="#a5a5a5"/>
<circle cx="91.50" cy="496.00" r="2.5" fill="#a5a5a5"/>
<circle cx="106.00" cy="496.50" r="2.5" fill="#a5a5a5"/>
<circle cx="98.90" cy="499.80" r="2.5" fill="#a5a5a5"/>
<line x1="143.50" y1="405.50" x2="165.70" y2="405.50" stroke="#000" stroke-width="1.6" />
<circle cx="154.50" cy="387.30" r="2.5" fill="#000"/>
<circle cx="147.40" cy="395.40" r="2.5" fill="#000"/>
<circle cx="161.90" cy="395.40" r="2.5" fill="#000"/>
<circle cx="154.50" cy="397.80" r="2.5" fill="#000"/>
<circle cx="150.80" cy="404.50" r="2.5" fill="#000"/>
<circle cx="158.60" cy="406.60" r="2.5" fill="#000"/>
<circle cx="146.40" cy="409.00" r="2.5" fill="#000"/>
<circle cx="163.20" cy="408.60" r="2.5" fill="#000"/>
<circle cx="157.60" cy="413.80" r="2.5" fill="#000"/>
<circle cx="151.80" cy="415.10" r="2.5" fill="#000"/>
<line x1="178.00" y1="458.80" x2="198.50" y2="458.80" stroke="#999" stroke-width="1.3" />
<circle cx="179.80" cy="441.20" r="2.5" fill="#a5a5a5"/>
<circle cx="196.60" cy="441.20" r="2.5" fill="#a5a5a5"/>
<circle cx="191.20" cy="443.30" r="2.5" fill="#a5a5a5"/>
<circle cx="185.40" cy="448.00" r="2.5" fill="#a5a5a5"/>
<circle cx="179.80" cy="458.80" r="2.5" fill="#a5a5a5"/>
<circle cx="196.60" cy="458.80" r="2.5" fill="#a5a5a5"/>
<circle cx="185.40" cy="463.00" r="2.5" fill="#a5a5a5"/>
<circle cx="190.80" cy="464.40" r="2.5" fill="#a5a5a5"/>
<circle cx="191.80" cy="467.30" r="2.5" fill="#a5a5a5"/>
<circle cx="184.60" cy="473.60" r="2.5" fill="#a5a5a5"/>
<circle cx="212.00" cy="390.50" r="2.5" fill="#000"/>
<circle cx="212.00" cy="405.00" r="2.5" fill="#a5a5a5"/>
<text transform="translate(219.60 393.80) scale(0.93 1)" font-size="10.75" fill="#000" stroke="#000" stroke-width="0.12">FVB/N</text>
<text transform="translate(219.60 408.20) scale(0.93 1)" font-size="10.75" fill="#000" stroke="#000" stroke-width="0.12">neu-N</text>
</svg>
</body></html>
